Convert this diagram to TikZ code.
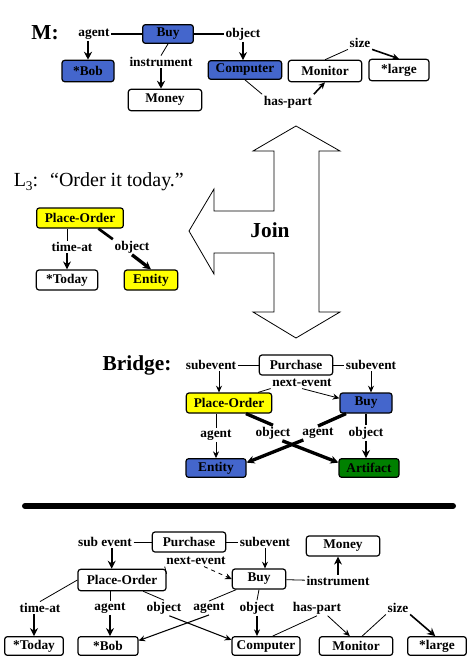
\documentclass[tikz,border=0pt]{standalone}
\usepackage{fontspec}
\setmainfont{Liberation Serif}
\usetikzlibrary{arrows.meta}
\definecolor{boxblue}{RGB}{68,102,204}
\definecolor{boxyellow}{RGB}{255,255,0}
\definecolor{boxgreen}{RGB}{0,128,0}

\begin{document}
\begin{tikzpicture}[x=0.75pt, y=-0.75pt, semithick,
  box/.style={draw, line width=0.9pt, rounded corners=2pt, font=\bfseries, inner sep=1pt, minimum height=15pt},
  rel/.style={font=\bfseries, inner sep=1pt},
  arc/.style={-{Stealth[length=5pt,width=4.5pt]}},
  heavy/.style={-{Stealth[length=6pt,width=6pt]}, line width=2pt},
  title/.style={font=\bfseries\fontsize{16}{16}\selectfont}]
\useasboundingbox (0,0) rectangle (474,668);

% M
\node[title] (mTitle) at (45,33) {M:};
\node[box, fill=boxblue, minimum width=38pt, minimum height=14pt] (mBuy) at (168,34) {Buy};
\node[box, fill=boxblue, minimum width=39pt, minimum height=16pt] (mBob) at (88,71) {*Bob};
\node[box, minimum width=55pt, minimum height=16pt] (mMoney) at (165,100) {Money};
\node[box, fill=boxblue, minimum width=55pt, minimum height=14pt] (mComputer) at (245,70) {Computer};
\node[box, minimum width=55pt, minimum height=16pt] (mMonitor) at (325,71) {Monitor};
\node[box, minimum width=45pt, minimum height=16pt] (mLarge) at (399,70) {*large};
\foreach \n/\t/\x/\y in {mAgent/agent/94/34, mObject/object/243/34, mInstr/instrument/161/62,
  mSize/size/360/43, mHasPart/has-part/288/102}
  {\node[rel] (\n) at (\x,\y) {\t};}
\draw[line width=1.5pt] (mAgent) -- (mBuy);
\draw[line width=1.5pt] (mBuy) -- (mObject);
\draw[heavy] (mAgent.south -| mBob) -- (mBob.north);
\draw (mBuy.south) -- (mInstr.north);
\draw[heavy] (mInstr.south) -- (mInstr.south |- mMoney.north);
\draw[heavy] (mObject.south) -- (mObject.south |- mComputer.north);
\draw (mMonitor.north) -- (mSize.south west);
\draw[arc, line width=1.2pt] (mSize.south east) -- (mLarge.north);
\draw (mComputer.south) -- (mHasPart.north west);
\draw[arc, line width=1.2pt] (mHasPart.north east) -- (mMonitor.south);

% L3
\node[font=\fontsize{15}{15}\selectfont] (lTitle) at (26,182) {L\raisebox{-0.4ex}{\fontsize{10}{10}\selectfont 3}:};
\node[font=\fontsize{15}{15}\selectfont] (lQuote) at (117,182) {“Order it today.”};
\node[box, fill=boxyellow, minimum width=65pt] (lOrder) at (80,218) {Place-Order};
\node[box, minimum width=46pt] (lToday) at (67,280) {*Today};
\node[box, fill=boxyellow, minimum width=40pt] (lEntity) at (151,280) {Entity};
\node[rel] (lTime) at (72,247) {time-at};
\node[rel] (lObject) at (132,247) {object};
\draw (lOrder.south -| lToday) -- (lTime.north -| lToday);
\draw[heavy] (lTime.south -| lToday) -- (lToday.north);
\draw[line width=2pt] (lOrder.-30) -- (lObject.north west);
\draw[heavy, line width=2.5pt] (lObject.south) -- (lEntity.north);

% join arrow
\draw (296,126) -- (340,151) -- (319,151) -- (319,312) -- (340,312) -- (296,338)
  -- (253,312) -- (274,312) -- (274,253) -- (214,253) -- (214,274) -- (189,231)
  -- (214,189) -- (214,211) -- (274,211) -- (274,151) -- (253,151) -- cycle;
\node[title] (join) at (270,230) {Join};

% bridge
\node[title] (bTitle) at (137,365) {Bridge:};
\node[box, minimum width=55pt] (bPurchase) at (296,365) {Purchase};
\node[box, fill=boxyellow, minimum width=64pt] (bOrder) at (229,403) {Place-Order};
\node[box, fill=boxblue, minimum width=39pt] (bBuy) at (366,403) {Buy};
\node[box, fill=boxblue, minimum width=45pt, minimum height=14pt] (bEntity) at (216,468) {Entity};
\node[box, fill=boxgreen, minimum width=45pt, minimum height=14pt] (bArtifact) at (369,468) {Artifact};
\foreach \n/\t/\x/\y in {bSubL/subevent/211/365, bSubR/subevent/371/365, bNext/next-event/302/383,
  bAgentL/agent/216/435, bObjM/object/273/433, bAgentM/agent/318/433, bObjR/object/366/433}
  {\node[rel] (\n) at (\x,\y) {\t};}
\draw (bSubL) -- (bPurchase);
\draw (bPurchase) -- (bSubR);
\draw[arc] ([xshift=6pt]bSubL.south) -- ([xshift=6pt]bSubL.south |- bOrder.north);
\draw[arc] (bSubR.south) -- (bSubR.south |- bBuy.north);
\draw (bOrder.20) -- (bNext.south west);
\draw[arc] (bNext.south) -- (bBuy.170);
\draw (bOrder.south -| bEntity) -- (bAgentL.north -| bEntity);
\draw[arc] (bAgentL.south -| bEntity) -- (bEntity.north);
\draw[line width=2.5pt] (bOrder.-32) -- (bObjM.north);
\draw[heavy, line width=2.5pt] ([xshift=7pt]bObjM.south) -- (bArtifact.170);
\draw[line width=2.5pt] (bBuy.-152) -- (bAgentM.north);
\draw[heavy, line width=2.5pt] ([xshift=-11pt]bAgentM.south) -- (bEntity.10);
\draw[line width=1.5pt] (bBuy.south) -- (bObjR.north);
\draw[heavy, line width=1.5pt] (bObjR.south) -- (bObjR.south |- bArtifact.north);

% rule
\draw[line width=4.5pt, line cap=round] (25,506) -- (453,506);

% result
\node[box, minimum width=55pt] (rPurchase) at (189,542) {Purchase};
\node[box, minimum width=55pt] (rMoney) at (343,546) {Money};
\node[box, minimum width=66pt, minimum height=16pt] (rOrder) at (122,580) {Place-Order};
\node[box, minimum width=40pt] (rBuy) at (259,579) {Buy};
\node[box, minimum width=44pt, minimum height=14pt] (rToday) at (34,646) {*Today};
\node[box, minimum width=45pt, minimum height=14pt] (rBob) at (108,646) {*Bob};
\node[box, minimum width=51pt, minimum height=14pt] (rComputer) at (266,646) {Computer};
\node[box, minimum width=55pt, minimum height=14pt] (rMonitor) at (356,646) {Monitor};
\node[box, minimum width=44pt, minimum height=14pt] (rLarge) at (437,646) {*large};
\foreach \n/\t/\x/\y in {rSubL/sub event/105/542, rSubR/subevent/265/542, rNext/next-event/196/561,
  rInstr/instrument/338/581, rTime/time-at/40/608, rAgentL/agent/110/608, rObjL/object/164/608,
  rAgentM/agent/209/608, rObjM/object/257/608, rHasPart/has-part/317/608, rSize/size/398/608}
  {\node[rel] (\n) at (\x,\y) {\t};}
\draw (rSubL) -- (rPurchase);
\draw (rPurchase) -- (rSubR);
\draw[heavy, line width=1.5pt] ([xshift=5pt]rSubL.south) -- ([xshift=5pt]rSubL.south |- rOrder.north);
\draw[arc] (rSubR.south) -- (rSubR.south |- rBuy.north);
\draw (rOrder.8) -- (rNext.south west);
\draw[arc, dashed] ([xshift=6pt]rNext.south) -- (rBuy.west);
\draw (rBuy) -- (rInstr);
\draw[heavy, line width=1.5pt] (rInstr.north) -- (rInstr.north |- rMoney.south);
\draw (rOrder.west) -- (rTime.north);
\draw[heavy, line width=1.5pt] (rTime.south -| rToday) -- (rToday.north);
\draw (rOrder.south -| rAgentL) -- (rAgentL.north);
\draw[heavy, line width=1.5pt] (rAgentL.south) -- (rAgentL.south |- rBob.north);
\draw (rOrder.-28) -- (rObjL.north);
\draw[arc, thick] ([xshift=4pt]rObjL.south) -- (rComputer.170);
\draw (rBuy.-155) -- (rAgentM.north);
\draw[arc, thick] (rAgentM.south) -- (rBob.10);
\draw (rBuy.south) -- (rObjM.north);
\draw[arc, thick] (rObjM.south) -- (rObjM.south |- rComputer.north);
\draw (rComputer.56) -- (rHasPart.south);
\draw[arc] ([xshift=8pt]rHasPart.south) -- (rMonitor.122);
\draw (rMonitor.58) -- (rSize.south west);
\draw[heavy, line width=1.2pt] (rSize.south east) -- (rLarge.100);
\end{tikzpicture}
\end{document}
